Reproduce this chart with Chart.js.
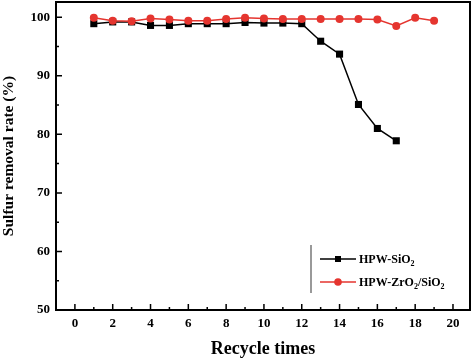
<!DOCTYPE html>
<html>
<head>
<meta charset="utf-8">
<script src="https://cdn.jsdelivr.net/npm/chart.js@4/dist/chart.umd.min.js"></script>
<style>
  body { margin: 0; background: #fff; }
  canvas { display: block; }
</style>
</head>
<body>
<canvas id="chart" width="474" height="364"></canvas>
<script>
// recycle runs
const cyclesSiO2 = [1, 2, 3, 4, 5, 6, 7, 8, 9, 10, 11, 12, 13, 14, 15, 16, 17];
const cyclesZr = [1, 2, 3, 4, 5, 6, 7, 8, 9, 10, 11, 12, 13, 14, 15, 16, 17, 18, 19];
// sulfur removal rate (%)
const rateSiO2 = [98.9, 99.2, 99.2, 98.6, 98.6, 98.9, 98.9, 98.9, 99.1, 99.0, 99.0, 98.9, 95.9, 93.7, 85.1, 81.0, 78.9];
const rateZr = [99.9, 99.4, 99.3, 99.8, 99.6, 99.4, 99.4, 99.7, 99.9, 99.8, 99.7, 99.7, 99.7, 99.7, 99.7, 99.6, 98.5, 99.9, 99.4];
const xTicks = [0, 2, 4, 6, 8, 10, 12, 14, 16, 18, 20];
const yTicks = [50, 60, 70, 80, 90, 100];

const RED = '#e5352f';
const FONT = '"Liberation Serif", "Times New Roman", serif';

const toPoints = (xs, ys) => xs.map((x, i) => ({ x: x, y: ys[i] }));

// frame, inward ticks and the legend box
const framePlugin = {
  id: 'frame',
  afterDraw: (chart) => {
    const { ctx, chartArea: a, scales } = chart;
    const xs = scales.x, ys = scales.y;
    ctx.save();
    ctx.strokeStyle = '#000';
    ctx.lineWidth = 2;
    ctx.strokeRect(a.left, a.top, a.right - a.left, a.bottom - a.top);

    ctx.lineWidth = 1.5;
    ctx.beginPath();
    for (let v = 0; v <= 20; v++) {
      const px = xs.getPixelForValue(v);
      const len = v % 2 === 0 ? 6 : 3;
      ctx.moveTo(px, a.bottom);
      ctx.lineTo(px, a.bottom - len);
    }
    for (let v = 50; v <= 100; v += 5) {
      const py = ys.getPixelForValue(v);
      const len = v % 10 === 0 ? 6 : 3;
      ctx.moveTo(a.left, py);
      ctx.lineTo(a.left + len, py);
    }
    ctx.stroke();

    // legend
    ctx.strokeStyle = '#555';
    ctx.lineWidth = 1.2;
    ctx.beginPath();
    ctx.moveTo(311, 245);
    ctx.lineTo(311, 293);
    ctx.stroke();

    const items = [
      { color: '#000', style: 'rect', y: 259, parts: [['HPW-SiO', 0], ['2', 1]] },
      { color: RED, style: 'circle', y: 282, parts: [['HPW-ZrO', 0], ['2', 1], ['/SiO', 0], ['2', 1]] }
    ];
    items.forEach((it) => {
      ctx.strokeStyle = it.color;
      ctx.fillStyle = it.color;
      ctx.lineWidth = 1.5;
      ctx.beginPath();
      ctx.moveTo(320, it.y);
      ctx.lineTo(356, it.y);
      ctx.stroke();
      ctx.beginPath();
      if (it.style === 'rect') {
        ctx.rect(338 - 3, it.y - 3, 6, 6);
      } else {
        ctx.arc(338, it.y, 3.8, 0, Math.PI * 2);
      }
      ctx.fill();

      ctx.fillStyle = '#000';
      ctx.textBaseline = 'alphabetic';
      ctx.textAlign = 'left';
      let tx = 359;
      it.parts.forEach(([txt, sub]) => {
        ctx.font = sub ? 'bold 8px ' + FONT : 'bold 12px ' + FONT;
        ctx.fillText(txt, tx, it.y + 4 + (sub ? 3 : 0));
        tx += ctx.measureText(txt).width;
      });
    });
    ctx.restore();
  }
};

const ctx = document.getElementById('chart').getContext('2d');
new Chart(ctx, {
  type: 'line',
  data: {
    datasets: [
      {
        label: 'HPW-SiO2',
        data: toPoints(cyclesSiO2, rateSiO2),
        borderColor: '#000',
        backgroundColor: '#000',
        borderWidth: 1.5,
        pointStyle: 'rect',
        pointRadius: 5,
        pointBorderWidth: 0,
        tension: 0,
        order: 1
      },
      {
        label: 'HPW-ZrO2/SiO2',
        data: toPoints(cyclesZr, rateZr),
        borderColor: RED,
        backgroundColor: RED,
        borderWidth: 1.5,
        pointStyle: 'circle',
        pointRadius: 4,
        pointBorderWidth: 0,
        tension: 0,
        order: 0
      }
    ]
  },
  options: {
    responsive: false,
    animation: false,
    layout: { autoPadding: false, padding: { top: 2, right: 4, left: 0, bottom: 0 } },
    plugins: {
      legend: { display: false },
      tooltip: { enabled: false }
    },
    scales: {
      x: {
        type: 'linear',
        min: -1,
        max: 20.9,
        afterBuildTicks: (scale) => { scale.ticks = xTicks.map((v) => ({ value: v })); },
        afterFit: (scale) => {
          scale.height = 54;
          scale.paddingLeft = 0;
          scale.paddingRight = 0;
        },
        grid: { display: false, drawTicks: false },
        border: { display: false },
        ticks: {
          color: '#000',
          padding: 6,
          maxRotation: 0,
          font: { family: FONT, size: 13, weight: 'bold' }
        },
        title: {
          display: true,
          text: 'Recycle times',
          color: '#000',
          padding: { top: 4, bottom: 4 },
          font: { family: FONT, size: 18, weight: 'bold' }
        }
      },
      y: {
        type: 'linear',
        min: 50,
        max: 102.6,
        afterBuildTicks: (scale) => { scale.ticks = yTicks.map((v) => ({ value: v })); },
        afterFit: (scale) => {
          scale.width = 56;
          scale.paddingTop = 0;
          scale.paddingBottom = 0;
        },
        grid: { display: false, drawTicks: false },
        border: { display: false },
        ticks: {
          color: '#000',
          padding: 6,
          font: { family: FONT, size: 13, weight: 'bold' }
        },
        title: {
          display: true,
          text: 'Sulfur removal rate (%)',
          color: '#000',
          padding: { top: 0, bottom: 0 },
          font: { family: FONT, size: 15.5, weight: 'bold' }
        }
      }
    }
  },
  plugins: [framePlugin]
});
</script>
</body>
</html>
